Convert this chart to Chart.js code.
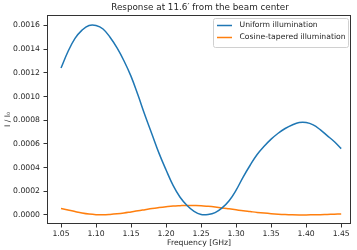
<!DOCTYPE html>
<html>
<head>
<meta charset="utf-8">
<script src="https://cdn.jsdelivr.net/npm/chart.js@4/dist/chart.umd.min.js"></script>
<style>
html,body{margin:0;padding:0;background:#fff;}
#wrap{width:357px;height:250px;position:relative;}
</style>
</head>
<body>
<div id="wrap"><canvas id="c" width="357" height="250"></canvas></div>
<script>
const titleText = "Response at 11.6\u2032 from the beam center";
const xLabel = "Frequency [GHz]";
const yLabel = "I / I\u2080";
const seriesNames = ["Uniform illumination", "Cosine-tapered illumination"];
const freqs = [1.05,1.06,1.07,1.08,1.09,1.10,1.11,1.12,1.13,1.14,1.15,1.16,1.17,1.18,1.19,1.20,1.21,1.22,1.23,1.24,1.25,1.26,1.27,1.28,1.29,1.30,1.31,1.32,1.33,1.34,1.35,1.36,1.37,1.38,1.39,1.40,1.41,1.42,1.43,1.44,1.45];
const uniform = [0.00124,0.00138,0.00149,0.00156,0.00160,0.00160,0.00157,0.00150,0.00141,0.00130,0.00117,0.00101,0.00084,0.00068,0.00052,0.00038,0.00025,0.00015,0.000080,0.00003,0.000004,0.000004,0.00002,0.00006,0.00012,0.00021,0.00032,0.00042,0.00051,0.00058,0.00064,0.00069,0.00073,0.00076,0.00078,0.00078,0.00076,0.00072,0.00067,0.00062,0.00056];
const cosine = [0.000055,0.000042,0.000029,0.000017,0.000008,0.000003,0.000002,0.000005,0.000010,0.000017,0.000026,0.000035,0.000045,0.000055,0.000063,0.000070,0.000076,0.000079,0.000081,0.000080,0.000078,0.000073,0.000067,0.000060,0.000052,0.000044,0.000036,0.000029,0.000022,0.000016,0.000011,0.000007,0.000004,0.000002,0.000001,0.000001,0.000002,0.000003,0.000005,0.000007,0.000009];
const xTicks = [1.05,1.10,1.15,1.20,1.25,1.30,1.35,1.40,1.45];
const yTicks = [0,0.0002,0.0004,0.0006,0.0008,0.0010,0.0012,0.0014,0.0016];

const FONT = "'DejaVu Sans', sans-serif";
const TXT = '#262626';
const colors = ['#1f77b4', '#ff7f0e'];
const FS = 7.7;

const framePlugin = {
  id: 'frame',
  afterDatasetsDraw(chart) {
    const a = chart.chartArea, ctx = chart.ctx;
    ctx.save();
    ctx.strokeStyle = '#333';
    ctx.lineWidth = 1;
    ctx.strokeRect(Math.round(a.left) + 0.5, Math.round(a.top) + 0.5, Math.round(a.right - a.left) - 1, Math.round(a.bottom - a.top) - 1);
    ctx.restore();
  }
};

const titlePlugin = {
  id: 'axTitle',
  afterDraw(chart) {
    const a = chart.chartArea, ctx = chart.ctx;
    ctx.save();
    ctx.font = '8.8px ' + FONT;
    ctx.fillStyle = TXT;
    ctx.textAlign = 'center';
    ctx.textBaseline = 'middle';
    ctx.fillText(titleText, (a.left + a.right) / 2 + 1, 7.3);
    ctx.restore();
  }
};

const legendPlugin = {
  id: 'mplLegend',
  afterDraw(chart) {
    const ctx = chart.ctx;
    const a = chart.chartArea;
    const x0 = 213, y0 = 18, w = a.right - 3 - 213, h = 29;
    ctx.save();
    ctx.fillStyle = 'rgba(255,255,255,0.8)';
    ctx.strokeStyle = '#d0d0d0';
    ctx.lineWidth = 1;
    ctx.beginPath();
    ctx.roundRect(x0 + 0.5, y0 + 0.5, w, h, 2);
    ctx.fill();
    ctx.stroke();
    ctx.font = FS + 'px ' + FONT;
    ctx.textBaseline = 'middle';
    ctx.fillStyle = TXT;
    chart.data.datasets.forEach((ds, i) => {
      const yy = 25.5 + i * 12;
      ctx.strokeStyle = ds.borderColor;
      ctx.lineWidth = 1.5;
      ctx.beginPath();
      ctx.moveTo(217, yy);
      ctx.lineTo(232, yy);
      ctx.stroke();
      ctx.fillText(ds.label, 239.5, yy);
    });
    ctx.restore();
  }
};

const ctx = document.getElementById('c').getContext('2d');
new Chart(ctx, {
  type: 'line',
  data: {
    datasets: [
      { label: seriesNames[0], data: freqs.map((f, i) => ({x: f, y: uniform[i]})), borderColor: colors[0], backgroundColor: colors[0], borderWidth: 1.5, pointRadius: 0, tension: 0.4 },
      { label: seriesNames[1], data: freqs.map((f, i) => ({x: f, y: cosine[i]})), borderColor: colors[1], backgroundColor: colors[1], borderWidth: 1.5, pointRadius: 0, tension: 0.4 }
    ]
  },
  options: {
    responsive: false,
    animation: false,
    devicePixelRatio: 1,
    layout: { padding: { left: 0, right: 6, top: 15, bottom: 0 } },
    plugins: {
      legend: { display: false },
      tooltip: { enabled: false },
      title: { display: false }
    },
    scales: {
      x: {
        type: 'linear', min: 1.03, max: 1.464,
        afterFit(s) { s.height = 26; },
        afterBuildTicks(s) { s.ticks = xTicks.map(v => ({value: v})); },
        grid: { drawOnChartArea: false, drawTicks: true, tickLength: 3.5, color: '#333', tickWidth: 1 },
        border: { display: false },
        ticks: { color: TXT, font: { family: FONT, size: FS }, padding: 1.5, maxRotation: 0, callback: v => Number(v).toFixed(2) },
        title: { display: true, text: xLabel, color: TXT, font: { family: FONT, size: FS }, padding: { top: 0, bottom: 2.5 } }
      },
      y: {
        type: 'linear', min: -0.000076, max: 0.001688,
        afterFit(s) { s.width = 47; },
        afterBuildTicks(s) { s.ticks = yTicks.map(v => ({value: v})); },
        grid: { drawOnChartArea: false, drawTicks: true, tickLength: 3.5, color: '#333', tickWidth: 1 },
        border: { display: false },
        ticks: { color: TXT, font: { family: FONT, size: FS }, padding: 3.5, callback: v => Number(v).toFixed(4) },
        title: { display: true, text: yLabel, color: TXT, font: { family: FONT, size: FS }, padding: { top: 3.5, bottom: 0 } }
      }
    }
  },
  plugins: [framePlugin, titlePlugin, legendPlugin]
});
</script>
</body>
</html>
